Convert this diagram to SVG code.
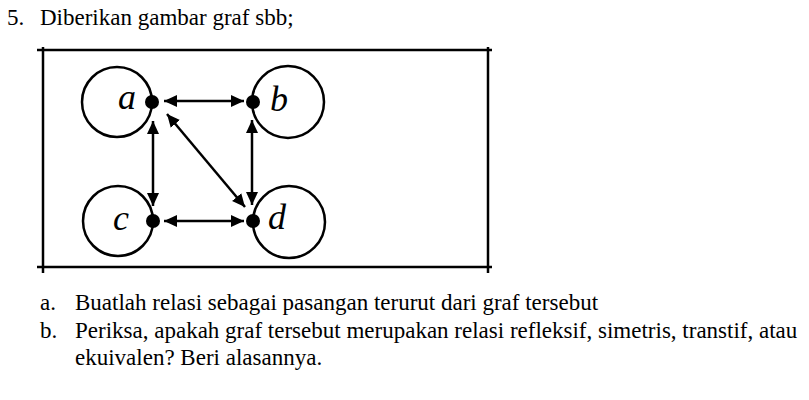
<svg xmlns="http://www.w3.org/2000/svg" width="809" height="400" viewBox="0 0 809 400">
  <style>
    text { font-family: 'Liberation Serif', 'Times New Roman', 'DejaVu Serif', serif; fill: #000; }
    .txt { font-size: 23px; }
    .lbl { font-size: 36px; font-style: italic; }
    .frame { stroke: #000; stroke-width: 2.5; fill: none; }
    .loop { stroke: #000; stroke-width: 2.5; fill: none; }
    .edge { stroke: #000; stroke-width: 2.5; fill: none; marker-start: url(#ah); marker-end: url(#ah); }
    .dot { fill: #000; }
  </style>
  <defs>
    <marker id="ah" markerUnits="userSpaceOnUse" markerWidth="14" markerHeight="13" refX="13" refY="6" orient="auto-start-reverse">
      <path d="M0,0 L13,6 L0,12 z" fill="#000"/>
    </marker>
  </defs>
  <rect width="809" height="400" fill="#fff"/>

  <g id="title">
    <text class="txt" font-family="Liberation Serif, serif" y="25"><tspan x="7">5.</tspan><tspan x="40">Diberikan gambar graf sbb;</tspan></text>
  </g>

  <g id="frame">
    <line class="frame" x1="37" y1="50" x2="492" y2="50"/>
    <line class="frame" x1="37" y1="267" x2="492" y2="267"/>
    <line class="frame" x1="43" y1="47" x2="43" y2="273"/>
    <line class="frame" x1="488" y1="47" x2="488" y2="273"/>
  </g>

  <g id="connectors">
    <circle class="loop" cx="117" cy="102" r="35"/>
    <circle class="loop" cx="288" cy="102" r="36"/>
    <circle class="loop" cx="118" cy="221" r="35"/>
    <circle class="loop" cx="289" cy="222" r="36"/>
    <line class="edge" x1="164" y1="101" x2="244" y2="101"/>
    <line class="edge" x1="164" y1="221" x2="244" y2="221"/>
    <line class="edge" x1="153" y1="121" x2="153" y2="206"/>
    <line class="edge" x1="252" y1="120" x2="252" y2="205"/>
    <line class="edge" x1="167" y1="114" x2="245" y2="207"/>
  </g>

  <g id="node-a">
    <circle class="dot" cx="152" cy="102" r="7"/>
    <text class="lbl" x="118" y="109">a</text>
  </g>
  <g id="node-b">
    <circle class="dot" cx="253" cy="102" r="7"/>
    <text class="lbl" x="270" y="111">b</text>
  </g>
  <g id="node-c">
    <circle class="dot" cx="153" cy="221" r="7"/>
    <text class="lbl" x="113" y="230">c</text>
  </g>
  <g id="node-d">
    <circle class="dot" cx="253" cy="221" r="7"/>
    <text class="lbl" x="268" y="229">d</text>
  </g>

  <g id="questions">
    <text class="txt" font-family="Liberation Serif, serif" y="310"><tspan x="40">a.</tspan><tspan x="75">Buatlah relasi sebagai pasangan terurut dari graf tersebut</tspan></text>
    <text class="txt" font-family="Liberation Serif, serif" y="338"><tspan x="40">b.</tspan><tspan x="75">Periksa, apakah graf tersebut merupakan relasi refleksif, simetris, transtif, atau</tspan></text>
    <text class="txt" font-family="Liberation Serif, serif" x="75" y="365">ekuivalen? Beri alasannya.</text>
  </g>
</svg>
